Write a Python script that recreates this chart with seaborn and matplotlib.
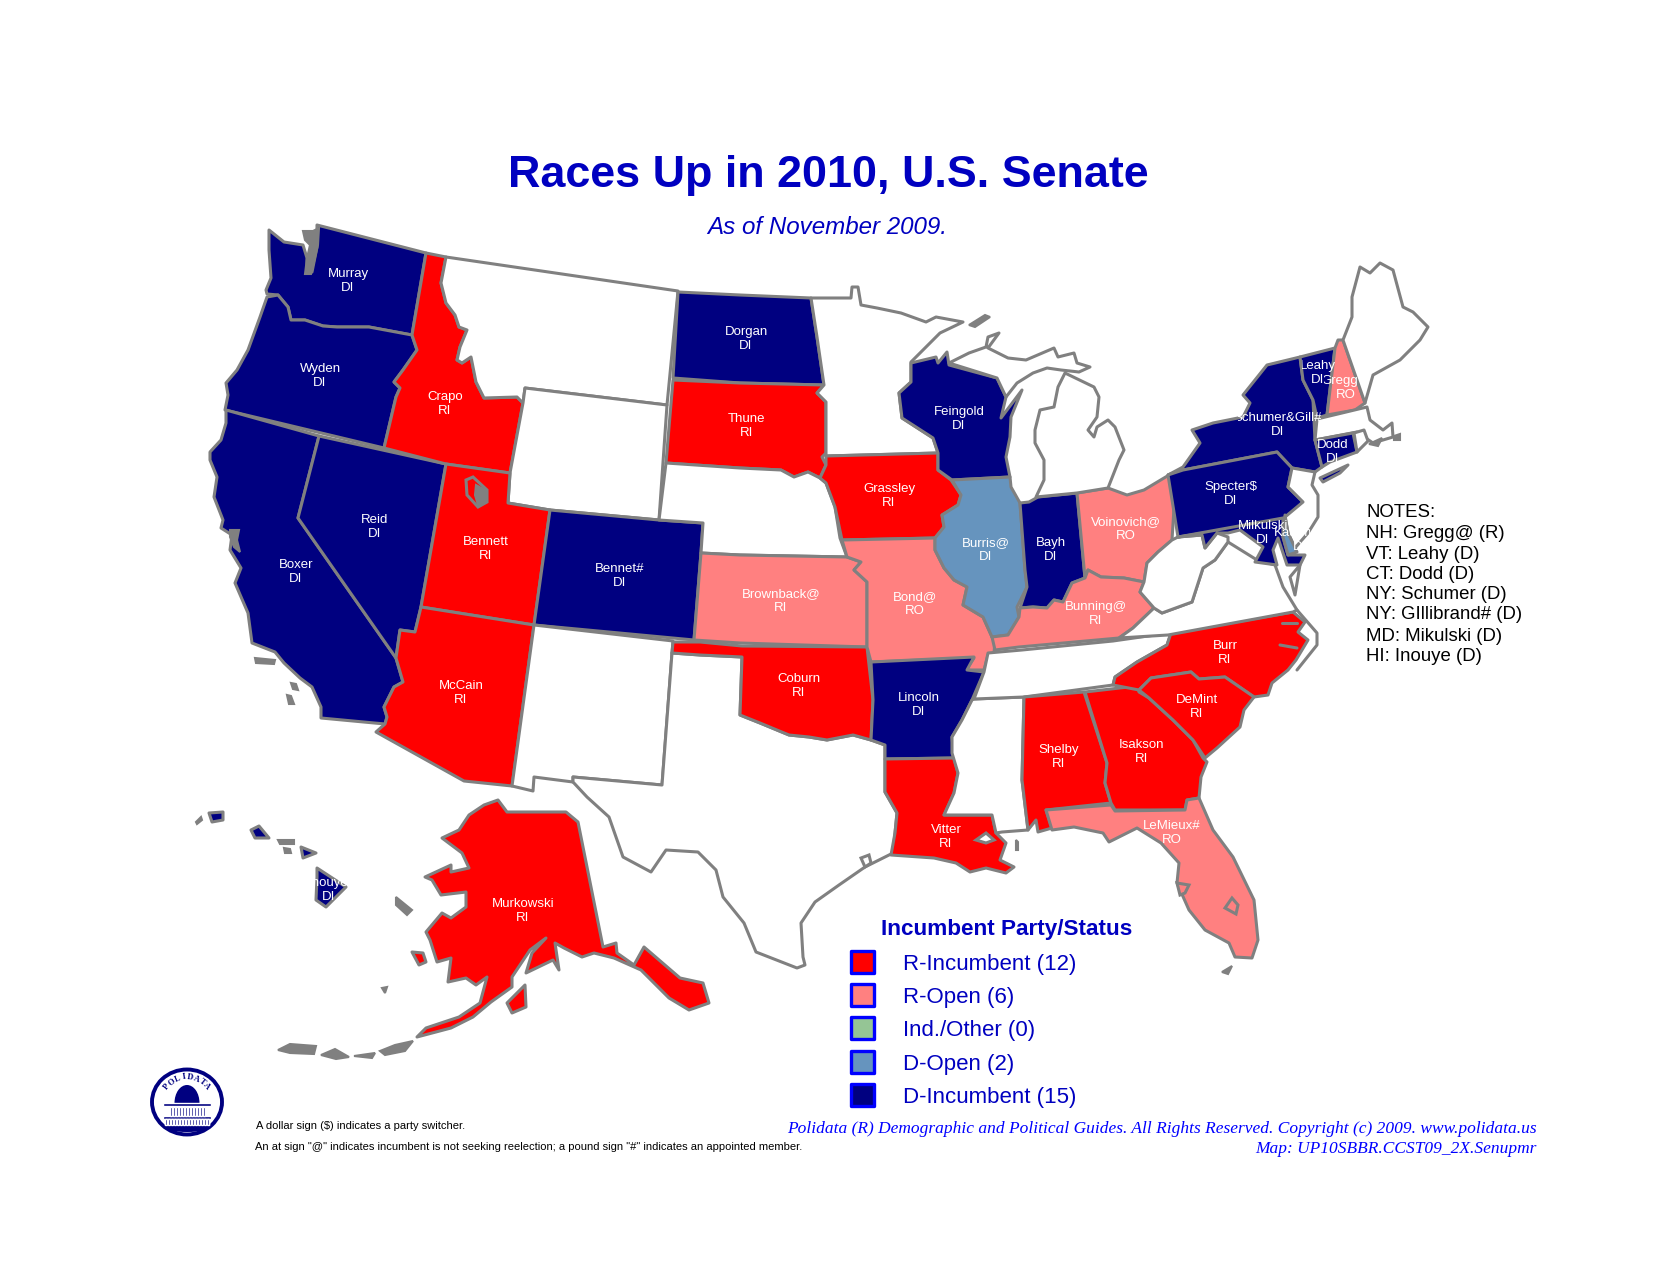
import matplotlib
matplotlib.use("Agg")
import matplotlib.pyplot as plt
from matplotlib.patches import Polygon, Ellipse, Rectangle
import numpy as np
import pandas as pd
import seaborn as sns

# ---------- legend / status data ----------
STATUS_NAMES = ["R-Incumbent", "R-Open", "Ind./Other", "D-Open", "D-Incumbent"]
STATUS_COUNTS = [12, 6, 0, 2, 15]
STATUS_COLORS = ["#FF0000", "#FF8080", "#95C595", "#6694BE", "#000080"]
NO_RACE = "#FFFFFF"
BORDER = "#808080"
TITLE_BLUE = "#0000C0"

NOTES = ["NOTES:", "NH: Gregg@ (R)", "VT: Leahy (D)", "CT: Dodd (D)", "NY: Schumer (D)",
         "NY: GIllibrand# (D)", "MD: Mikulski (D)", "HI: Inouye (D)"]

# ---------- state outlines (map data, picture pixels) ----------
WA = [(317,225),(426,253),(412,335),(369,327),(337,327),(323,326),(305,320),(291,320),(288,307),(278,295),(267,294),(266,290),(271,278),(269,250),(269,230),(284,242),(303,245),(307,258),(307,273),(312,272),(317,247)]
OR = [(267,297),(260,317),(248,350),(237,370),(226,383),(228,395),(225,410),(384,448),(396,397),(400,388),(394,382),(403,370),(417,350),(412,335),(369,327),(337,327),(323,326),(305,320),(291,320),(288,307),(278,295)]
CA = [(226,410),(226,423),(221,440),(210,452),(210,460),(217,477),(214,497),(223,520),(221,528),(232,535),(230,550),(241,568),(235,583),(248,613),(252,643),(275,652),(284,663),(300,678),(312,687),(321,707),(321,718),(385,724),(387,717),(384,707),(391,693),(394,687),(403,682),(396,658),(298,518),(319,436)]
NV = [(319,436),(446,464),(421,607),(415,632),(400,630),(396,658),(298,518)]
ID = [(426,253),(446,257),(441,283),(446,303),(455,315),(459,327),(467,330),(460,347),(457,360),(462,363),(471,357),(476,382),(484,398),(517,397),(523,403),(510,473),(446,464),(384,448),(396,397),(400,388),(394,382),(403,370),(417,350),(412,335)]
MT = [(446,257),(678,291),(667,405),(525,388),(523,403),(517,397),(484,398),(476,382),(471,357),(462,363),(457,360),(460,347),(467,330),(459,327),(455,315),(446,303),(441,283)]
WY = [(525,388),(667,405),(659,520),(550,510),(508,503),(510,473),(523,403)]
UT = [(510,473),(508,503),(550,510),(534,625),(421,607),(446,464)]
CO = [(550,510),(659,520),(703,523),(701,553),(694,640),(534,625)]
AZ = [(421,607),(534,625),(512,786),(464,781),(376,732),(385,724),(387,717),(384,707),(391,693),(394,687),(403,682),(396,658),(400,630),(415,632)]
NM = [(534,625),(673,641),(672,653),(662,785),(573,777),(573,782),(534,777),(533,791),(512,786)]
ND = [(678,292),(740,295),(811,298),(817,337),(824,385),(740,383),(673,378)]
SD = [(673,380),(740,383),(824,385),(817,393),(826,402),(826,453),(822,457),(826,465),(820,478),(808,472),(794,477),(781,470),(740,468),(666,463)]
NE = [(666,463),(740,468),(781,470),(794,477),(808,472),(820,478),(826,483),(835,507),(840,538),(847,557),(740,555),(701,553),(703,523),(659,520)]
KS = [(701,553),(740,555),(847,557),(861,562),(854,570),(867,582),(867,647),(740,643),(694,640)]
OK = [(673,642),(700,642),(742,646),(867,647),(873,700),(871,740),(853,735),(827,740),(809,737),(789,735),(760,723),(740,715),(742,657),(700,655),(672,653)]
TX = [(672,653),(700,655),(742,657),(740,715),(760,723),(789,735),(809,737),(827,740),(853,735),(871,740),(885,745),(885,792),(897,813),(893,853),(865,867),(839,885),(815,902),(801,923),(803,957),(805,965),(797,968),(756,952),(744,923),(723,897),(716,870),(698,852),(666,850),(651,872),(623,857),(616,837),(609,817),(587,797),(573,782),(573,777),(662,785)]
MN = [(811,298),(851,298),(852,287),(858,287),(861,305),(877,308),(901,313),(926,322),(936,317),(963,322),(940,333),(911,362),(911,382),(899,393),(902,418),(933,438),(938,453),(826,456),(826,402),(817,393),(824,385),(817,337)]
IA = [(826,456),(938,453),(938,470),(951,480),(961,495),(958,505),(942,515),(944,527),(935,538),(842,540),(835,507),(826,483),(820,478),(826,465)]
WI = [(911,363),(936,357),(938,363),(947,352),(949,365),(997,378),(1006,397),(1001,418),(1022,390),(1011,417),(1010,437),(1006,457),(1010,477),(952,480),(938,470),(938,453),(933,438),(902,418),(899,393),(911,382)]
IL = [(952,480),(1010,477),(1011,487),(1020,503),(1025,570),(1027,587),(1017,607),(1019,617),(1008,635),(992,637),(983,617),(963,605),(967,587),(954,580),(944,568),(935,550),(935,538),(944,527),(942,515),(958,505),(961,495)]
IN = [(1020,503),(1029,502),(1038,497),(1077,493),(1085,578),(1072,583),(1063,602),(1054,600),(1047,608),(1033,607),(1020,608),(1027,587),(1025,570)]
OH = [(1077,493),(1108,488),(1127,495),(1144,490),(1169,475),(1174,508),(1172,540),(1158,552),(1147,563),(1144,582),(1124,578),(1101,577),(1088,570),(1085,578)]
MI_L = [(1036,497),(1077,493),(1108,488),(1119,460),(1124,450),(1115,427),(1108,420),(1097,427),(1094,437),(1088,430),(1097,417),(1099,397),(1094,387),(1065,373),(1058,387),(1054,407),(1040,410),(1035,430),(1035,443),(1044,460),(1044,480)]
MI_U = [(949,363),(969,353),(986,347),(988,337),(999,333),(988,348),(1008,358),(1026,360),(1054,348),(1058,357),(1074,353),(1077,363),(1090,367),(1079,372),(1061,370),(1047,368),(1033,373),(1017,383),(1006,397),(997,378)]
KY = [(995,650),(1019,647),(1119,638),(1133,628),(1154,608),(1140,592),(1144,582),(1124,578),(1101,577),(1088,570),(1085,578),(1072,583),(1063,602),(1054,600),(1047,608),(1033,607),(1020,608),(1019,617),(1008,635),(992,637)]
MO = [(842,540),(935,538),(935,550),(944,568),(954,580),(967,587),(963,605),(983,617),(992,637),(995,642),(994,653),(988,655),(984,670),(966,670),(974,658),(871,662),(867,647),(867,582),(854,570),(861,562),(847,557)]
AR = [(871,662),(974,657),(967,670),(984,672),(972,700),(962,720),(952,737),(954,758),(885,759),(885,745),(871,740),(873,700)]
LA = [(885,759),(954,758),(958,773),(954,793),(944,815),(992,815),(996,833),(1006,843),(1000,860),(1014,867),(1006,873),(986,868),(970,872),(956,863),(934,858),(891,855),(895,833),(897,813),(885,792)]
MS = [(974,699),(1024,697),(1022,780),(1028,830),(1002,832),(996,833),(992,815),(944,815),(954,793),(958,773),(952,753),(952,737),(962,720),(972,700)]
AL = [(1024,697),(1084,692),(1107,763),(1105,783),(1111,803),(1046,810),(1052,828),(1038,832),(1036,820),(1028,830),(1022,780)]
GA = [(1085,692),(1137,686),(1139,692),(1149,698),(1173,720),(1193,740),(1203,758),(1207,762),(1201,777),(1199,798),(1187,800),(1185,810),(1115,810),(1111,803),(1105,783),(1107,763)]
SC = [(1139,690),(1151,678),(1191,672),(1199,679),(1225,677),(1254,697),(1244,710),(1240,727),(1217,748),(1205,758),(1193,740),(1173,720),(1149,698)]
NC = [(1113,685),(1115,677),(1137,662),(1167,645),(1171,633),(1293,612),(1305,622),(1298,632),(1308,640),(1296,660),(1288,670),(1272,683),(1268,695),(1254,697),(1225,677),(1199,679),(1191,672),(1151,678),(1139,690)]
TN = [(988,653),(1022,650),(1113,641),(1169,633),(1171,633),(1167,645),(1137,662),(1115,677),(1113,685),(1024,697),(974,699),(984,672)]
VA = [(1119,638),(1133,628),(1154,608),(1162,613),(1192,602),(1203,568),(1215,560),(1228,542),(1257,560),(1275,565),(1283,587),(1297,610),(1293,612),(1168,635)]
WV = [(1172,540),(1158,552),(1147,563),(1144,582),(1140,592),(1154,608),(1162,613),(1192,602),(1203,568),(1215,560),(1228,542),(1228,537),(1217,533),(1205,548),(1202,535),(1178,537)]
PA = [(1168,475),(1183,470),(1277,452),(1292,468),(1288,487),(1303,502),(1288,520),(1178,537)]
NY = [(1168,475),(1183,467),(1200,443),(1192,430),(1213,423),(1243,417),(1250,403),(1243,395),(1267,365),(1300,357),(1303,380),(1313,400),(1315,440),(1322,467),(1315,472),(1292,468),(1277,452),(1183,470)]
LI = [(1320,478),(1348,465),(1340,473),(1323,482)]
VT = [(1300,357),(1335,348),(1327,415),(1317,418),(1313,400),(1303,380)]
NH = [(1335,348),(1338,340),(1343,340),(1365,403),(1355,410),(1327,415)]
ME = [(1343,340),(1352,317),(1352,297),(1360,267),(1370,273),(1380,263),(1393,270),(1403,307),(1413,312),(1428,327),(1420,340),(1400,360),(1373,375),(1365,403)]
MA = [(1317,419),(1367,407),(1370,420),(1383,430),(1392,423),(1393,437),(1373,443),(1357,432),(1315,440)]
CT = [(1315,440),(1353,433),(1357,452),(1330,462),(1322,467)]
RI = [(1354,433),(1364,430),(1368,441),(1357,452)]
NJ = [(1292,468),(1315,472),(1312,485),(1318,495),(1318,517),(1308,533),(1295,548),(1288,533),(1285,517),(1303,502),(1288,487)]
MD = [(1178,537),(1283,518),(1283,537),(1288,555),(1305,555),(1300,565),(1287,565),(1278,538),(1273,550),(1277,565),(1255,562),(1263,547),(1240,530),(1228,533),(1217,533),(1205,548),(1202,535)]
DE = [(1285,515),(1288,533),(1297,552),(1288,555),(1283,537)]
VA_E = [(1300,565),(1295,595),(1290,577)]
FL = [(1046,810),(1111,805),(1115,811),(1185,810),(1187,800),(1199,798),(1213,830),(1233,857),(1254,900),(1258,940),(1252,958),(1235,957),(1229,943),(1205,930),(1189,910),(1177,883),(1179,863),(1161,843),(1137,828),(1109,842),(1103,833),(1074,827),(1052,830)]
AK = [(498,800),(507,812),(566,812),(578,822),(603,947),(616,943),(617,953),(634,965),(644,947),(680,978),(703,983),(709,1003),(689,1010),(669,998),(641,970),(614,958),(594,953),(582,957),(564,948),(555,943),(559,970),(553,960),(526,973),(532,953),(546,938),(530,950),(512,977),(512,987),(491,1002),(473,1017),(451,1028),(417,1037),(426,1028),(459,1017),(480,1003),(487,977),(476,985),(466,978),(448,982),(451,958),(437,962),(430,940),(426,932),(442,913),(451,918),(466,907),(466,892),(441,895),(432,880),(425,877),(451,865),(451,872),(469,868),(462,853),(442,838),(459,830),(469,815),(484,805)]
AK_KODIAK = [(507,1003),(525,985),(526,1007),(512,1013)]
AK_NUNIVAK = [(412,952),(423,953),(426,962),(419,965)]
HI_BIG = [(317,868),(346,887),(326,907),(316,900),(317,877)]
HI_MAUI = [(301,847),(316,853),(303,858)]
HI_OAHU = [(251,830),(259,826),(269,838),(255,838)]
HI_KAUAI = [(209,813),(223,812),(223,820),(212,822)]

STATES = {
    "WA": (WA, 4), "OR": (OR, 4), "CA": (CA, 4), "NV": (NV, 4), "ID": (ID, 0), "MT": (MT, None), "WY": (WY, None),
    "UT": (UT, 0), "CO": (CO, 4), "AZ": (AZ, 0), "NM": (NM, None), "ND": (ND, 4), "SD": (SD, 0), "NE": (NE, None),
    "TX": (TX, None), "KS": (KS, 1), "OK": (OK, 0), "MN": (MN, None), "IA": (IA, 0), "MO": (MO, 1), "AR": (AR, 4),
    "LA": (LA, 0), "MS": (MS, None), "WI": (WI, 4), "IL": (IL, 3), "IN": (IN, 4), "OH": (OH, 1), "MI_L": (MI_L, None),
    "MI_U": (MI_U, None), "KY": (KY, 1), "TN": (TN, None), "AL": (AL, 0), "GA": (GA, 0), "FL": (FL, 1), "NC": (NC, 0),
    "SC": (SC, 0), "VA": (VA, None), "VA_E": (VA_E, None), "WV": (WV, None), "NY": (NY, 4), "LI": (LI, 4), "PA": (PA, 4),
    "NJ": (NJ, None), "MD": (MD, 4), "DE": (DE, 3), "VT": (VT, 4), "NH": (NH, 1), "ME": (ME, None), "MA": (MA, None),
    "CT": (CT, 4), "RI": (RI, None), "AK": (AK, 0), "AK_KODIAK": (AK_KODIAK, 0), "AK_NUNIVAK": (AK_NUNIVAK, 0),
    "HI_BIG": (HI_BIG, 4), "HI_MAUI": (HI_MAUI, 4), "HI_OAHU": (HI_OAHU, 4), "HI_KAUAI": (HI_KAUAI, 4),
}

# small gray features: bays, little islands
GRAY_BLOBS = [
    [(303,231),(313,231),(319,228),(318,245),(314,262),(311,274),(305,274),(307,258),(310,245),(305,240)],
    [(476,485),(487,491),(487,502),(478,505),(475,495)],
    [(230,530),(239,530),(237,540),(240,552),(234,547),(230,537)],
    [(255,658),(275,660),(274,664),(256,663)],
    [(291,683),(296,684),(298,690),(293,689)],
    [(287,695),(291,696),(294,704),(289,704)],
    [(969,325),(985,315),(990,317),(975,327)],
    [(396,897),(412,910),(407,915),(396,905)],
    [(382,988),(387,987),(385,993)],
    [(278,1050),(290,1044),(316,1046),(314,1054),(290,1053)],
    [(321,1055),(335,1049),(349,1057),(336,1059)],
    [(354,1056),(375,1053),(372,1058)],
    [(380,1051),(395,1045),(413,1041),(405,1051),(385,1055)],
    [(196,822),(201,817),(202,820),(197,824)],
    [(278,840),(294,840),(294,844),(280,844)],
    [(284,848),(290,849),(291,853),(285,853)],
    [(1222,972),(1232,966),(1228,974)],
    [(1394,436),(1400,434),(1400,440),(1394,440)],
    [(1369,444),(1382,438),(1378,446)],
    [(1016,840),(1018,842),(1018,850),(1016,850)],
]
# rings: lakes and bays drawn in a given status fill (None = white)
LAKE_RINGS = [
    ([(466,480),(473,477),(487,490),(487,502),(478,507),(467,495)], 0),
    ([(1232,898),(1225,908),(1236,914),(1238,905)], 1),
    ([(1177,883),(1189,885),(1185,893),(1180,895)], 1),
    ([(976,840),(986,833),(994,840),(986,843)], None),
    ([(861,858),(869,855),(871,863),(865,867)], None),
]
SOUND_LINES = [
    [(1297,610),(1317,633),(1317,645),(1297,670)],
    [(1280,645),(1297,648)],
    [(1282,623),(1297,623)],
]

# ---------- senator labels ----------
LABELS = [("Murray\nDI",348,281),("Wyden\nDI",320,376),("Crapo\nRI",445,404),("Boxer\nDI",296,572),("Reid\nDI",375,527),
          ("Bennett\nRI",486,549),("Bennet#\nDI",620,576),("McCain\nRI",461,693),("Dorgan\nDI",746,339),("Thune\nRI",747,426),
          ("Brownback@\nRI",781,601),("Coburn\nRI",799,686),("Lincoln\nDI",919,705),("Vitter\nRI",946,837),("Grassley\nRI",889,496),
          ("Bond@\nRO",915,604),("Burris@\nDI",986,550),("Feingold\nDI",959,419),("Bayh\nDI",1051,550),("Voinovich@\nRO",1126,529),
          ("Bunning@\nRI",1096,614),("Shelby\nRI",1059,757),("Isakson\nRI",1142,752),("DeMint\nRI",1197,707),("Burr\nRI",1225,653),
          ("LeMieux#\nRO",1172,833),("Murkowski\nRI",523,911),("Specter$\nDI",1231,494),("Dodd\nDI",1333,452)]
CLIPPED_LABELS = [("Schumer&Gill#\nDI",1278,425,1238,1321),("Leahy\nDI",1318,373,1302,1345),("Gregg@\nRO",1346,388,1324,1357),
                  ("Milkulski\nDI",1263,533,1238,1290),("Kaufman\nDI",1300,540,1271,1310),("Inouye\nDI",329,890,312,346)]

sns.set_theme(style="white")
plt.rcParams["font.family"] = ["Liberation Sans", "DejaVu Sans"]

fig = plt.figure(figsize=(16.62, 12.75), dpi=100)
ax = fig.add_axes([0, 0, 1, 1])
ax.set_xlim(0, 1662)
ax.set_ylim(1275, 0)
ax.axis("off")

LW = 2.2
for name, (pts, status) in STATES.items():
    face = NO_RACE if status is None else STATUS_COLORS[status]
    ax.add_patch(Polygon(pts, closed=True, facecolor=face, edgecolor=BORDER, lw=LW, joinstyle="round", zorder=2))
for ring, status in LAKE_RINGS:
    face = NO_RACE if status is None else STATUS_COLORS[status]
    ax.add_patch(Polygon(ring, closed=True, facecolor=face, edgecolor=BORDER, lw=LW, zorder=3))
for blob in GRAY_BLOBS:
    ax.add_patch(Polygon(blob, closed=True, facecolor=BORDER, edgecolor=BORDER, lw=1.5, zorder=3))
for line in SOUND_LINES:
    arr = np.array(line)
    ax.plot(arr[:, 0], arr[:, 1], color=BORDER, lw=LW, zorder=3, solid_capstyle="round")

for text, x, y in LABELS:
    ax.text(x, y, text, color="white", fontsize=9.5, ha="center", va="center", linespacing=1.3, zorder=5)
for text, x, y, left, right in CLIPPED_LABELS:
    t = ax.text(x, y, text, color="white", fontsize=9.5, ha="center", va="center", linespacing=1.3, zorder=5)
    t.set_clip_path(Rectangle((left, 0), right - left, 1275, transform=ax.transData))
    t.set_clip_on(True)

# headings
ax.text(828, 176, "Races Up in 2010, U.S. Senate", color=TITLE_BLUE, fontsize=32.3, fontweight="bold", ha="center", va="center")
ax.text(827, 228, "As of November 2009.", color=TITLE_BLUE, fontsize=17.4, fontstyle="italic", ha="center", va="center")

# legend
ax.text(1007, 929, "Incumbent Party/Status", color=TITLE_BLUE, fontsize=16.2, fontweight="bold", ha="center", va="center")
legend_df = pd.DataFrame({"status": STATUS_NAMES, "x": 862.5, "y": [962, 995, 1028, 1062, 1095]})
sns.scatterplot(data=legend_df, x="x", y="y", hue="status", palette=STATUS_COLORS, hue_order=STATUS_NAMES,
                marker="s", s=270, edgecolor="#0000FF", linewidth=2.4, legend=False, ax=ax, zorder=6)
for name, count, y in zip(STATUS_NAMES, STATUS_COUNTS, legend_df["y"]):
    ax.text(903, y + 2.5, f"{name} ({count})", color=TITLE_BLUE, fontsize=16, ha="left", va="center")
ax.set_xlabel("")
ax.set_ylabel("")

# notes
for line, y in zip(NOTES, [511, 532, 553, 573, 593, 613, 635, 655]):
    ax.text(1366.5, y + 1.5, line, color="black", fontsize=13.4, ha="left", va="center")

# footers
ax.text(256, 1126, 'A dollar sign ($) indicates a party switcher.', color="black", fontsize=8, ha="left", va="center")
ax.text(255, 1147, 'An at sign "@" indicates incumbent is not seeking reelection; a pound sign "#" indicates an appointed member.',
        color="black", fontsize=8, ha="left", va="center")
ax.text(1537, 1129, "Polidata (R) Demographic and Political Guides. All Rights Reserved. Copyright (c) 2009. www.polidata.us",
        color="#0000FF", fontsize=12.5, family="Liberation Serif", fontstyle="italic", ha="right", va="center")
ax.text(1537, 1149, "Map: UP10SBBR.CCST09_2X.Senupmr",
        color="#0000FF", fontsize=12.5, family="Liberation Serif", fontstyle="italic", ha="right", va="center")

# Polidata seal
NAVY = STATUS_COLORS[4]
cx, cy = 187, 1102
ax.add_patch(Ellipse((cx, cy), 70, 65, facecolor="white", edgecolor=NAVY, lw=2.8, zorder=6))
ax.add_patch(Ellipse((cx, cy + 1), 25, 36, facecolor=NAVY, edgecolor="none", zorder=7))
ax.add_patch(Rectangle((cx - 24, cy + 1), 48, 3, facecolor=NAVY, zorder=8))
ax.add_patch(Rectangle((cx - 17, cy + 5), 34, 9, facecolor="white", zorder=8))
for dx in np.arange(-17, 18, 3):
    ax.add_patch(Rectangle((cx + dx, cy + 5), 1.6, 9, facecolor=NAVY, zorder=9))
ax.add_patch(Rectangle((cx - 24, cy + 14), 48, 3, facecolor=NAVY, zorder=8))
ax.add_patch(Rectangle((cx - 22, cy + 17), 44, 6, facecolor="white", zorder=8))
for dx in np.arange(-22, 22, 3):
    ax.add_patch(Rectangle((cx + dx, cy + 17), 1.6, 6, facecolor=NAVY, zorder=9))
ax.add_patch(Ellipse((cx, cy + 25), 46, 10, facecolor=NAVY, edgecolor="none", zorder=8))
for ch, ang in zip("POLIDATA", np.linspace(-52, 52, 8)):
    r = 25
    px = cx + r * np.sin(np.radians(ang))
    py = cy - r * np.cos(np.radians(ang))
    ax.text(px, py, ch, color=NAVY, fontsize=6, fontweight="bold", family="Liberation Serif",
            rotation=-ang, ha="center", va="center", zorder=9)

fig.savefig("out.png", dpi=100, facecolor="white")
